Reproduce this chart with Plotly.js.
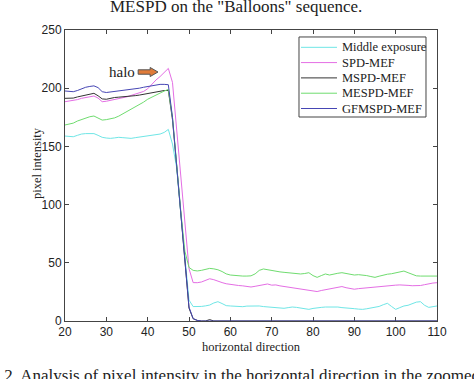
<!DOCTYPE html>
<html>
<head>
<meta charset="utf-8">
<script src="https://cdn.plot.ly/plotly-3.0.1.min.js"></script>
<style>html,body{margin:0;padding:0;background:#fff;}#chart{width:474px;height:379px;}</style>
</head>
<body>
<div id="chart"></div>
<script>
// x positions (horizontal direction)
const xs = [];
for (let i = 20; i <= 110; i++) xs.push(i);

const seriesNames = ["Middle exposure", "SPD-MEF", "MSPD-MEF", "MESPD-MEF", "GFMSPD-MEF"];

const middleExposure = [
  158.9,158.5,158.3,159.5,160.6,161,161.2,161,159.5,157.8,
  157.2,156.9,157.3,157.8,157.5,157,156.9,157.5,158,158.9,
  159.2,159.5,160,160.6,162,164.6,152,132,93,54,
  18,12.4,12.3,12.5,13,13.7,15.5,16.6,15,13.2,
  12.9,12.5,12.2,12.3,12.8,13,12.7,12.9,12.4,12,
  11.8,11.7,11.2,10.9,11.5,12,11.7,11,10.5,10,
  10.8,11.5,11.7,12,12.2,12.3,12,11.5,11,10.9,
  10.6,10.2,10,10.5,11.2,11.7,12.5,14,15.2,12.5,
  10,11.5,12.9,13.5,15,16.2,16.6,13.5,11.7,12.3,
  12.9
];
const spdMef = [
  188.4,188.8,189.3,190.2,191.3,192,192.8,193.3,191.5,188.4,
  188.8,189.5,190,191,192,192.6,193.8,195,196,197.2,
  199.5,203.5,207,210,213.5,217,205,165,125,85,
  45,33,32.9,33.5,35,36.3,35.5,34,33,32,
  31.3,30.8,30.5,30.2,30,29.2,29.8,30.6,31,31.8,
  30.8,31,30.2,29.6,29,28.4,27.8,27.3,27,26.2,
  25.5,25.3,26.2,27,27.3,28,29,29.6,28.6,27.8,
  27.3,27.8,28.2,28.6,29,29,29.4,29.8,30.1,30.4,
  30.8,31,31,30.6,30.3,30.1,30.5,31.2,32,32.6,
  32.9
];
const mspdMef = [
  191.3,191.3,191.5,192.5,193.3,194.5,195.2,195.6,193.5,190.8,
  190.5,191.5,192,192.3,192.5,192.8,193.2,193.6,194.1,194.8,
  195.4,196,196.8,197.5,198,198,173,134,93,52,
  11,2,0.5,0,0,1.2,0,0,0,0,
  0,0,0,0,0,0,0,0,0,0,
  0,0,0,0,0,0,0,0,0,0,
  0,0,0,0,0,0,0,0,0,0,
  0,0,0,0,0,0,0,0,0,0,
  0,0,0,0,0,0,0,0,0,0,
  0
];
const mespdMef = [
  168.4,169,170,171.8,173.2,174.5,175.5,176.1,174.5,172.6,
  173,173.8,174.5,176,178,179.8,181.5,183.5,185.5,188,
  190.5,192.5,194.3,195.8,197.5,199,175,134,95,60,
  46,43.5,43,43.5,44.5,45.2,44.8,44,42.5,40.5,
  39.5,39,38.8,38.6,38.6,38.8,40.5,43.5,44.7,44,
  43,42.4,42.2,41.8,41.5,41,40.6,40.4,40.8,41.5,
  39,37.5,39,40.4,39.5,40.5,41,41.5,40.8,40.2,
  39.5,39.8,39.5,39,38.2,37.5,38.5,39.5,40.2,40.6,
  41.2,42,42.9,41.5,40,38.8,38.6,38.6,38.6,38.6,
  38.6
];
const gfmspdMef = [
  197.6,197.3,197,198,199.5,200.8,201.5,202,200.5,197,
  196.3,196.7,197.2,197.8,198.2,198.5,198.8,199.5,200,200.8,
  201.5,202,202.8,203.3,203.3,203,175,134,93,52,
  12,2,0.5,0,0,0,0,0,0,0,
  0,0,0,0,0,0,0,0,0,0,
  0,0,0,0,0,0,0,0,0,0,
  0,0,0,0,0,0,0,0,0,0,
  0,0,0,0,0,0,0,0,0,0,
  0,0,0,0,0,0,0,0,0,0,
  0
];

const xTicks = [20,30,40,50,60,70,80,90,100,110];
const yTicks = [0,50,100,150,200,250];

const allSeries = [middleExposure, spdMef, mspdMef, mespdMef, gfmspdMef];
const colors = ["#6fe6e6", "#e46ee4", "#333333", "#6fdc6f", "#4646b4"];

const traces = allSeries.map((ys, i) => ({
  type: "scatter", mode: "lines", x: xs, y: ys, name: seriesNames[i],
  line: {color: colors[i], width: 1}, showlegend: false
}));

const serif = "Liberation Serif, Times New Roman, serif";
const sans = "Liberation Sans, Arial, sans-serif";

const axisCommon = {
  showline: true, linecolor: "#444", linewidth: 1, mirror: "ticks",
  ticks: "inside", ticklen: 4, tickcolor: "#444", tickwidth: 1,
  showgrid: false, zeroline: false,
  tickfont: {family: sans, size: 12, color: "#222"},
  layer: "below traces"
};

// legend box drawn in paper space (MATLAB-style compact legend)
const legX0 = 0.629, legX1 = 0.9704, legY0 = 0.701, legY1 = 0.976;
const legLineX0 = 0.6344, legLineX1 = 0.7312, legTextX = 0.7392;
const legRowY = [0.9405, 0.888, 0.8354, 0.7828, 0.7302];

const shapes = [{
  type: "path", xref: "x", yref: "y",
  path: "M 37.7,212 L 40.6,212 L 40.6,210 L 42.5,213.9 L 40.6,217.8 L 40.6,215.8 L 37.7,215.8 Z",
  fillcolor: "#e07b39", line: {color: "#555", width: 1}
}, {
  type: "rect", xref: "paper", yref: "paper", x0: legX0, x1: legX1, y0: legY0, y1: legY1,
  fillcolor: "#fff", line: {color: "#444", width: 1}
}];
const annotations = [
  {xref: "x", yref: "y", x: 33.7, y: 214, text: "halo", showarrow: false,
   font: {family: serif, size: 15, color: "#222"}},
  {xref: "paper", yref: "paper", x: 0.461, y: 1.0, yshift: 35, yanchor: "top", xanchor: "center",
   text: "MESPD on the \"Balloons\" sequence.", showarrow: false,
   font: {family: serif, size: 17, color: "#222"}},
  {xref: "paper", yref: "paper", x: -0.253, y: 0, yshift: -43, yanchor: "top", xanchor: "left",
   text: "Fig. 2. Analysis of pixel intensity in the horizontal direction in the zoomed region",
   showarrow: false, font: {family: serif, size: 17, color: "#222"}},
  {xref: "paper", yref: "paper", x: -0.075, y: 0.543, textangle: -90, xanchor: "center", yanchor: "middle",
   text: "pixel intensity", showarrow: false, font: {family: serif, size: 12.5, color: "#222"}}
];
seriesNames.forEach((nm, i) => {
  shapes.push({type: "line", xref: "paper", yref: "paper", x0: legLineX0, x1: legLineX1,
    y0: legRowY[i], y1: legRowY[i], line: {color: colors[i], width: 1}});
  annotations.push({xref: "paper", yref: "paper", x: legTextX, y: legRowY[i], xanchor: "left", yanchor: "middle",
    text: nm, showarrow: false, font: {family: serif, size: 12.5, color: "#222"}});
});

const layout = {
  width: 474, height: 379,
  margin: {l: 65, r: 37, t: 30, b: 58},
  paper_bgcolor: "#fff", plot_bgcolor: "#fff",
  showlegend: false,
  xaxis: Object.assign({}, axisCommon, {
    range: [20, 110], tickvals: xTicks, ticktext: xTicks.map(String),
    title: {text: "horizontal direction", font: {family: serif, size: 12.5, color: "#222"}, standoff: 3}
  }),
  yaxis: Object.assign({}, axisCommon, {
    range: [0, 250], tickvals: yTicks, ticktext: yTicks.map(String)
  }),
  shapes: shapes,
  annotations: annotations
};

Plotly.newPlot("chart", traces, layout, {displayModeBar: false, staticPlot: true});
</script>
</body>
</html>
